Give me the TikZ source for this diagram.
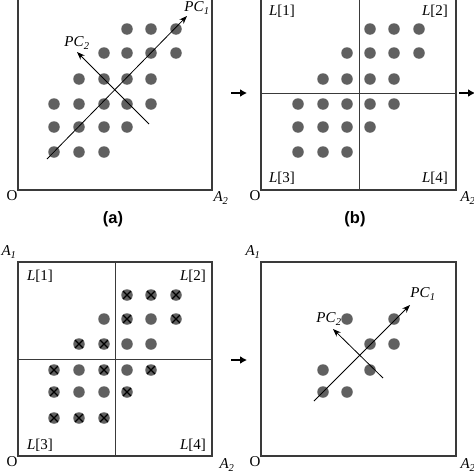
\documentclass[tikz,border=0pt]{standalone}
\usepackage{fontspec}
\setmainfont{Liberation Serif}
\newfontfamily\labelsans{Liberation Sans}
\usetikzlibrary{arrows.meta}
\definecolor{dotgray}{HTML}{606060}
\definecolor{framegray}{HTML}{3A3A3A}
\tikzset{
  panelframe/.style={draw=framegray, line width=1.1pt},
  divider/.style={draw=framegray, line width=1pt},
  datapt/.style={circle, fill=dotgray, draw=none, minimum size=11.5pt, inner sep=0pt},
  xpt/.style={datapt, path picture={\draw[black, line width=1.1pt]
     (path picture bounding box.south west) -- (path picture bounding box.north east)
     (path picture bounding box.north west) -- (path picture bounding box.south east);}},
  pcaxis/.style={draw=black, line width=0.8pt, -{Stealth[length=8pt,width=6pt]}},
  flowarrow/.style={draw=black, line width=1.8pt, -{Latex[length=7pt,width=8pt]}},
  lab/.style={font=\fontsize{15}{17}\selectfont, inner sep=0pt},
  captionlab/.style={font=\labelsans\bfseries\fontsize{16.5}{19}\selectfont, inner sep=0pt},
}
\newcommand{\pclab}[1]{\textit{PC}\textsubscript{\textit{#1}}}
\newcommand{\alab}[1]{\textit{A}\textsubscript{\textit{#1}}}
\begin{document}
\begin{tikzpicture}[x=1pt, y=-1pt]
\useasboundingbox[fill=white] (0,0) rectangle (474,474);
\begin{scope}
\clip (0,0) rectangle (474,474);
% ---------- panel (a)
\draw[panelframe] (18,-4) rectangle (212,190);
\foreach \x/\y [count=\i] in {127/29,151/29,176/29, 104/53,127/53,151/53,176/53, 79/79,104/79,127/79,151/79, 54/104,79/104,104/104,127/104,151/104, 54/127,79/127,104/127,127/127, 54/152,79/152,104/152}
  \node[datapt] (a\i) at (\x,\y) {};
\coordinate (a1s) at (47,159); \coordinate (a1e) at (187,16);
\coordinate (a2s) at (149,124); \coordinate (a2e) at (77,52);
\draw[pcaxis] (a1s) -- (a1e);
\draw[pcaxis] (a2s) -- (a2e);
\node[lab] (apc1) at (197,8) {\pclab{1}};
\node[lab] (apc2) at (77,43) {\pclab{2}};
\node[lab] (aO) at (12,196) {O};
\node[lab] (aA2) at (221,198) {\alab{2}};
\node[captionlab] (acap) at (113,219) {(a)};
% ---------- panel (b)
\draw[panelframe] (261,-4) rectangle (456,190);
\draw[divider] (359,-4) -- (359,190);
\draw[divider] (261,93) -- (456,93);
\foreach \x/\y [count=\i] in {370/29,394/29,419/29, 347/53,370/53,394/53,419/53, 323/79,347/79,370/79,394/79, 298/104,323/104,347/104,370/104,394/104, 298/127,323/127,347/127,370/127, 298/152,323/152,347/152}
  \node[datapt] (b\i) at (\x,\y) {};
\node[lab] (bL1) at (282,11) {\textit{L}[1]};
\node[lab] (bL2) at (435,11) {\textit{L}[2]};
\node[lab] (bL3) at (282,178) {\textit{L}[3]};
\node[lab] (bL4) at (435,178) {\textit{L}[4]};
\node[lab] (bO) at (255,196) {O};
\node[lab] (bA2) at (468,198) {\alab{2}};
\node[captionlab] (bcap) at (355,219) {(b)};
\coordinate (f1s) at (231,93); \coordinate (f1e) at (247,93);
\draw[flowarrow] (f1s) -- (f1e);
\coordinate (f2s) at (459,93); \coordinate (f2e) at (475,93);
\draw[flowarrow] (f2s) -- (f2e);
% ---------- panel (c)
\draw[panelframe] (18,262) rectangle (212,456);
\draw[divider] (115,262) -- (115,456);
\draw[divider] (18,359) -- (212,359);
\foreach \x/\y [count=\i] in {104/319, 151/319, 127/344, 151/344, 79/370, 127/370, 79/392, 104/392}
  \node[datapt] (c\i) at (\x,\y) {};
\foreach \x/\y [count=\i] in {127/295,151/295,176/295, 127/319,176/319, 79/344,104/344, 54/370,104/370,151/370, 54/392,127/392, 54/418,79/418,104/418}
  \node[xpt] (cx\i) at (\x,\y) {};
\node[lab] (cA1) at (9,252) {\alab{1}};
\node[lab] (cL1) at (40,276) {\textit{L}[1]};
\node[lab] (cL2) at (193,276) {\textit{L}[2]};
\node[lab] (cL3) at (40,445) {\textit{L}[3]};
\node[lab] (cL4) at (193,445) {\textit{L}[4]};
\node[lab] (cO) at (12,462) {O};
\node[lab] (cA2) at (227,465) {\alab{2}};
\coordinate (f3s) at (231,360); \coordinate (f3e) at (247,360);
\draw[flowarrow] (f3s) -- (f3e);
% ---------- panel (d)
\draw[panelframe] (261,262) rectangle (456,456);
\foreach \x/\y [count=\i] in {347/319, 394/319, 370/344, 394/344, 323/370, 370/370, 323/392, 347/392}
  \node[datapt] (d\i) at (\x,\y) {};
\coordinate (d1s) at (314,401); \coordinate (d1e) at (410,305);
\coordinate (d2s) at (383,378); \coordinate (d2e) at (333,329);
\draw[pcaxis] (d1s) -- (d1e);
\draw[pcaxis] (d2s) -- (d2e);
\node[lab] (dpc1) at (423,294) {\pclab{1}};
\node[lab] (dpc2) at (329,319) {\pclab{2}};
\node[lab] (dA1) at (253,252) {\alab{1}};
\node[lab] (dO) at (255,462) {O};
\node[lab] (dA2) at (468,465) {\alab{2}};
\end{scope}
\end{tikzpicture}
\end{document}
